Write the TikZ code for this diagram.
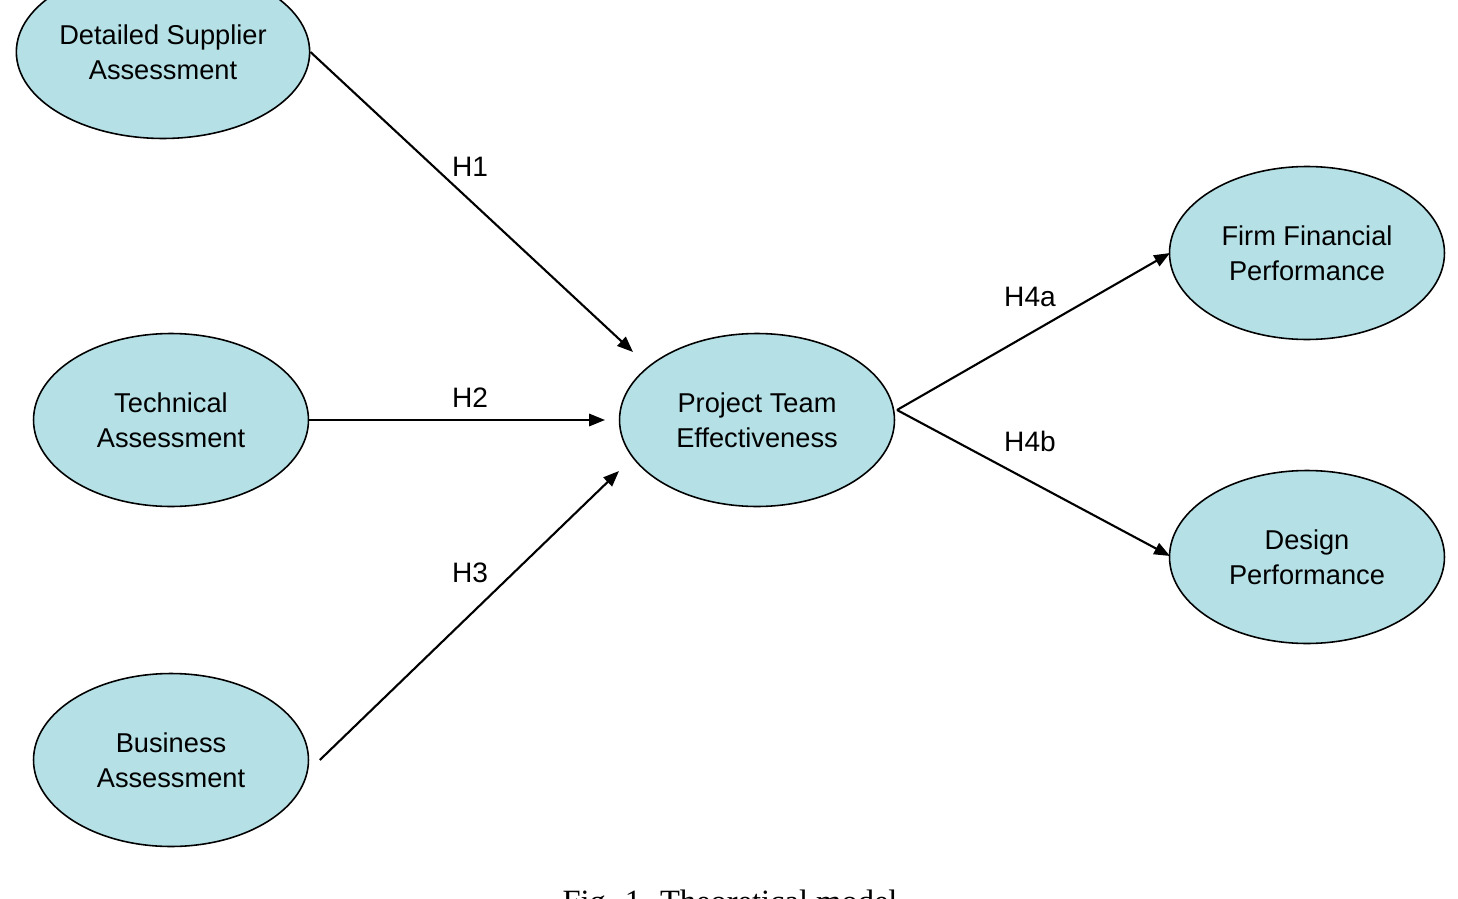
\documentclass[tikz,border=0pt]{standalone}
\usepackage{fontspec}
\setmainfont{Liberation Sans}
\newfontfamily\capfont{Liberation Serif}
\usetikzlibrary{shapes.geometric,arrows.meta}
\definecolor{ellfill}{RGB}{180,224,230}
\begin{document}
\begin{tikzpicture}[x=0.02cm,y=-0.02cm,
  ell/.style={ellipse,draw=black,line width=0.9pt,fill=ellfill,minimum width=5.5cm,minimum height=3.46cm,inner sep=0pt,align=center,font=\fontsize{15.5}{20}\selectfont},
  arr/.style={-{Triangle[length=9pt,width=7pt]},line width=1.2pt},
  lab/.style={font=\fontsize{16}{20}\selectfont}]
\useasboundingbox (0,0) rectangle (1458,899);
\node[ell] (d) at (163,52) {Detailed Supplier\\Assessment};
\node[ell] (t) at (171,420) {Technical\\Assessment};
\node[ell] (b) at (171,760) {Business\\Assessment};
\node[ell] (p) at (757,420) {Project Team\\Effectiveness};
\node[ell] (f) at (1307,253) {Firm Financial\\Performance};
\node[ell] (g) at (1307,557) {Design\\Performance};
\coordinate (ps) at (897,410);
\coordinate (e1) at (633,352);
\coordinate (e2) at (605,420);
\coordinate (e3) at (619,471);
\coordinate (e4) at (1170,253);
\coordinate (e5) at (1170,556);
\draw[arr] (d.east) -- (e1);
\draw[arr] (t.east) -- (e2);
\draw[arr] ([xshift=6]b.east) -- (e3);
\draw[arr] (ps) -- (e4);
\draw[arr] (ps) -- (e5);
\node[lab] (h1) at (470,167) {H1};
\node[lab] (h2) at (470,398) {H2};
\node[lab] (h3) at (470,573) {H3};
\node[lab] (h4a) at (1030,297) {H4a};
\node[lab] (h4b) at (1030,441) {H4b};
\node[font=\capfont\fontsize{18.5}{20}\selectfont] (cap) at (730,905) {Fig. 1. Theoretical model};
\end{tikzpicture}
\end{document}
